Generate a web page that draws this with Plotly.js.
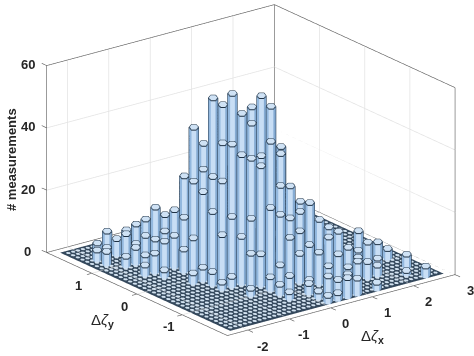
<!DOCTYPE html>
<html><head><meta charset="utf-8">
<script src="https://cdn.plot.ly/plotly-3.0.1.min.js"></script>
<style>html,body{margin:0;padding:0;background:#fff}#c{width:474px;height:356px}</style></head>
<body><div id="c"></div>
<script>
const binX=[-2.2,-1.964,-1.728,-1.492,-1.256,-1.02,-0.784,-0.548,-0.312,-0.076,0.16,0.396,0.632,0.868,1.104,1.34,1.576,1.812,2.048,2.284,2.52,2.756];
const binY=[-1.79,-1.579,-1.368,-1.157,-0.946,-0.735,-0.524,-0.313,-0.102,0.109,0.32,0.531,0.742,0.953,1.164,1.375,1.586,1.797];
const counts=[
[0,0,0,0,0,0,0,0,0,0,2,2,6,5,0,2,0,0,0,0,3,0],
[0,0,0,0,0,0,0,0,0,0,2,6,4,5,0,0,0,0,0,1,0,0],
[0,0,0,0,0,0,0,0,2,0,3,0,7,10,5,6,5,3,0,0,4,0],
[0,0,0,0,0,0,0,0,3,5,0,2,10,14,15,9,5,9,3,0,0,0],
[0,0,0,0,0,0,2,0,4,7,15,9,11,6,15,8,0,5,0,6,3,0],
[0,0,0,0,0,0,0,11,10,24,21,19,14,8,16,8,0,0,9,0,0,0],
[0,0,0,0,0,2,3,15,20,36,43,28,27,18,20,8,0,0,0,0,0,0],
[0,0,0,0,0,4,15,20,39,37,37,52,36,15,19,8,0,0,0,0,0,0],
[0,0,0,0,3,4,21,30,41,50,46,54,30,36,0,0,0,0,0,0,0,0],
[0,0,0,0,0,12,26,30,40,55,30,49,20,0,0,0,0,0,0,0,0,0],
[0,0,0,2,0,7,28,31,53,50,25,25,0,0,0,0,0,0,0,0,0,0],
[0,0,3,6,9,10,15,43,37,30,20,0,0,0,0,0,0,0,0,0,0,0],
[0,0,0,4,3,10,16,26,20,15,0,0,0,0,0,0,0,0,0,0,0,0],
[0,0,3,5,8,6,13,10,12,0,0,0,0,0,0,0,0,0,0,0,0,0],
[0,4,0,8,4,11,14,0,0,0,0,0,0,0,0,0,0,0,0,0,0,0],
[0,3,3,5,7,8,0,0,0,0,0,0,0,0,0,0,0,0,0,0,0,0],
[0,0,3,6,0,0,0,0,0,0,0,0,0,0,0,0,0,0,0,0,0,0],
[0,0,0,0,0,0,0,0,0,0,0,0,0,0,0,0,0,0,0,0,0,0]
];
const xTicks=[-2,-1,0,1,2,3];
const yTicks=[-1,0,1];
const zTicks=[0,20,40,60];
const xLim=[-2.5,3], yLim=[-2,2], zLim=[0,60];
const rangeX=[-2.63,3], rangeY=[-2.12,2.12];

const unitX=51.5, unitY=73.6, unitZ=3.29;
const det=41.8*(-21.5)-(-45.5)*(-11.45);
const toDataX=p=>(-21.5*p[0]+45.5*p[1])/det;
const toDataY=p=>(11.45*p[0]+41.8*p[1])/det;
const hexPx=[[4.7,0],[2.4,2.8],[-2.4,2.8],[-4.7,0],[-2.4,-2.8],[2.4,-2.8]];
const vx=hexPx.map(toDataX), vy=hexPx.map(toDataY);
const spotPx=[[2.4,0.3],[1.3,1.1],[-1.3,0.9],[-2.4,-0.3],[-1.3,-1.1],[1.3,-0.9]];
const sx=spotPx.map(toDataX), sy=spotPx.map(toDataY);

const mx=[],my=[],mz=[],fi=[],fj=[],fk=[],fc=[];
const lx=[],ly=[],lz=[];
const sideCol=['#85abd3','#c8def5','#93b8de','#7ba3cc','#7ba3cc','#7ba3cc'];
const topCol='#cfe2f5';
function seg(pts){pts.forEach(p=>{lx.push(p[0]);ly.push(p[1]);lz.push(p[2]);});lx.push(null);ly.push(null);lz.push(null);}

// floor plate
const px0=binX[0]-0.1,px1=binX[21]+0.1,py0=binY[0]-0.09,py1=binY[17]+0.09;
[[px0,py0],[px1,py0],[px1,py1],[px0,py1]].forEach(p=>{mx.push(p[0]);my.push(p[1]);mz.push(0);});
fi.push(0,0);fj.push(1,2);fk.push(2,3);fc.push('#34485c','#34485c');
// light caps of the empty floor cells, on a lattice twice as fine as the bars
const fineX=[],fineY=[];
binX.forEach((v,i)=>{fineX.push(v);if(i<binX.length-1)fineX.push((v+binX[i+1])/2);});
binY.forEach((v,i)=>{fineY.push(v);if(i<binY.length-1)fineY.push((v+binY[i+1])/2);});
fineY.forEach(cy=>fineX.forEach(cx=>{
  const b=mx.length;
  for(let n=0;n<6;n++){mx.push(cx+sx[n]);my.push(cy+sy[n]);mz.push(0.12);}
  for(let n=1;n<5;n++){fi.push(b);fj.push(b+n);fk.push(b+n+1);fc.push('#d2e2f0');}
}));
binY.forEach((cy,j)=>binX.forEach((cx,i)=>{
  const h=counts[j][i];
  if(h===0)return;
  const b=mx.length;
  for(let n=0;n<6;n++){mx.push(cx+vx[n]);my.push(cy+vy[n]);mz.push(0);}
  for(let n=0;n<6;n++){mx.push(cx+vx[n]);my.push(cy+vy[n]);mz.push(h);}
  for(let n=0;n<6;n++){const a=n,c=(n+1)%6;
    fi.push(b+a);fj.push(b+c);fk.push(b+6+c);fc.push(sideCol[n]);
    fi.push(b+a);fj.push(b+6+c);fk.push(b+6+a);fc.push(sideCol[n]);}
  for(let n=1;n<5;n++){fi.push(b+6);fj.push(b+6+n);fk.push(b+6+n+1);fc.push(topCol);}
  const rim=[];for(let n=0;n<=6;n++){const q=n%6;rim.push([cx+vx[q],cy+vy[q],h]);}
  seg(rim);
  seg([[cx+vx[0],cy+vy[0],0],[cx+vx[0],cy+vy[0],h]]);seg([[cx+vx[3],cy+vy[3],0],[cx+vx[3],cy+vy[3],h]]);
}));

const gx=[],gy=[],gz=[];
function gseg(p,q){gx.push(p[0],q[0],null);gy.push(p[1],q[1],null);gz.push(p[2],q[2],null);}
xTicks.slice(0,5).forEach(v=>{gseg([v,yLim[1],0],[v,yLim[1],zLim[1]]);gseg([v,yLim[0],0],[v,yLim[1],0]);});
yTicks.forEach(v=>{gseg([xLim[1],v,0],[xLim[1],v,zLim[1]]);gseg([xLim[0],v,0],[xLim[1],v,0]);});
zTicks.slice(1,3).forEach(v=>{gseg([xLim[0],yLim[1],v],[xLim[1],yLim[1],v]);gseg([xLim[1],yLim[1],v],[xLim[1],yLim[0],v]);});

const fx=[],fy=[],fz=[];
function fseg(p,q){fx.push(p[0],q[0],null);fy.push(p[1],q[1],null);fz.push(p[2],q[2],null);}
const [a0,a1]=xLim,[b0,b1]=yLim,zt=zLim[1];
fseg([a0,b1,0],[a0,b0,0]);fseg([a0,b0,0],[a1,b0,0]);fseg([a1,b0,0],[a1,b1,0]);fseg([a1,b1,0],[a0,b1,0]);
fseg([a0,b1,0],[a0,b1,zt]);fseg([a1,b1,0],[a1,b1,zt]);fseg([a1,b0,0],[a1,b0,zt]);
fseg([a0,b1,zt],[a1,b1,zt]);fseg([a1,b1,zt],[a1,b0,zt]);
xTicks.forEach(v=>fseg([v,b0,0],[v,b0-0.11,0]));
yTicks.forEach(v=>fseg([a0,v,0],[a0-0.12,v,0]));
zTicks.forEach(v=>fseg([a0,b1,v],[a0,b1+0.11,v]));

const lab={family:'Liberation Sans, Arial, sans-serif',size:13,color:'#262626'};
const anns=[];
xTicks.forEach(v=>anns.push({x:v,y:b0,z:0,text:'<b>'+v+'</b>',showarrow:false,xshift:15,yshift:-16,font:lab}));
yTicks.forEach(v=>anns.push({x:a0,y:v,z:0,text:'<b>'+v+'</b>',showarrow:false,xshift:-13,yshift:-12,font:lab}));
zTicks.forEach(v=>anns.push({x:a0,y:b1,z:v,text:'<b>'+v+'</b>',showarrow:false,xshift:-19,yshift:1,font:lab}));

const r=1.2;
const ctr={x:-0.06,y:0.025,z:-0.037};
const axis={showgrid:false,zeroline:false,showline:false,showticklabels:false,ticks:'',showspikes:false,showbackground:false,title:{text:''}};
const data=[
 {type:'scatter3d',mode:'lines',x:gx,y:gy,z:gz,line:{color:'#e3e3e3',width:1.5},hoverinfo:'skip',showlegend:false},
 {type:'mesh3d',x:mx,y:my,z:mz,i:fi,j:fj,k:fk,facecolor:fc,flatshading:true,lighting:{ambient:1,diffuse:0,specular:0,roughness:1,fresnel:0},hoverinfo:'skip',showscale:false},
 {type:'scatter3d',mode:'lines',x:lx,y:ly,z:lz,line:{color:'#1e3144',width:2},hoverinfo:'skip',showlegend:false},
 {type:'scatter3d',mode:'lines',x:fx,y:fy,z:fz,line:{color:'#5f5f5f',width:1.3},hoverinfo:'skip',showlegend:false}
];
const asp=176;
const axisFont={family:'Liberation Sans',size:15,color:'#262626'};
const ann2={xref:'paper',yref:'paper',xanchor:'center',yanchor:'middle',showarrow:false};
const layout={width:474,height:356,margin:{l:0,r:0,t:0,b:0},paper_bgcolor:'#fff',showlegend:false,
 scene:{domain:{x:[0,1],y:[0,1]},
  xaxis:Object.assign({},axis,{range:rangeX}),yaxis:Object.assign({},axis,{range:rangeY}),zaxis:Object.assign({},axis,{range:zLim}),
  aspectmode:'manual',aspectratio:{x:(rangeX[1]-rangeX[0])*unitX/asp,y:(rangeY[1]-rangeY[0])*unitY/asp,z:60*unitZ/asp},
  camera:{eye:{x:ctr.x-0.57*r,y:ctr.y-0.747*r,z:ctr.z+0.352*r},center:ctr,up:{x:0,y:0,z:1},projection:{type:'orthographic'}},
  annotations:anns},
 annotations:[
  Object.assign({},ann2,{x:11/474,y:1-160/356,text:'<b># measurements</b>',textangle:-90,font:lab}),
  Object.assign({},ann2,{x:102/474,y:1-320/356,text:'Δ<i>ζ</i><sub><b>y</b></sub>',font:axisFont}),
  Object.assign({},ann2,{x:372/474,y:1-336/356,text:'Δ<i>ζ</i><sub><b>x</b></sub>',font:axisFont})
 ]
};
Plotly.newPlot('c',data,layout,{displayModeBar:false});
</script></body></html>
